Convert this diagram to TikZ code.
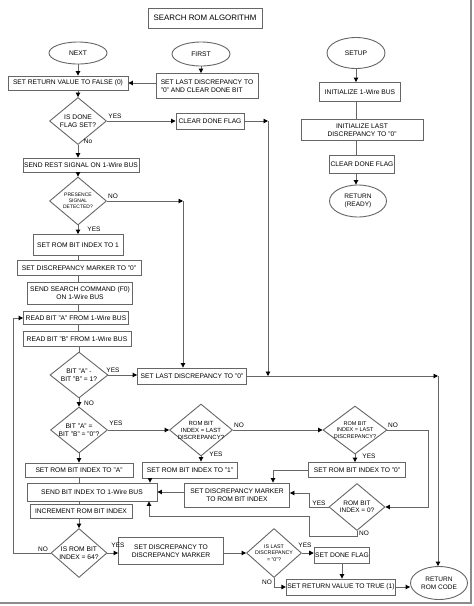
\documentclass[tikz,border=0pt]{standalone}
\usepackage{fontspec}
\setmainfont{Liberation Sans}
\usetikzlibrary{arrows.meta, shapes.geometric, positioning}
\newcommand{\fz}[2]{\fontsize{#1pt}{#2pt}\selectfont}

\begin{document}
\begin{tikzpicture}[x=1pt, y=-1pt,
  ln/.style={draw=black!60, line width=0.9pt},
  arr/.style={ln, -{Triangle[length=4.5pt, width=4.5pt, color=black]}},
  box/.style={draw=black!60, line width=0.9pt, fill=white, inner sep=1pt, align=center, font=\fz{6.7}{8}},
  term/.style={ellipse, draw=black!60, line width=0.9pt, fill=white, inner sep=0pt, align=center, font=\fz{6.7}{8}},
  dec/.style={diamond, draw=black!60, line width=0.9pt, fill=white, inner sep=-6pt, shape aspect=1.2, align=center, font=\fz{6.7}{7.5}},
  lbl/.style={inner sep=0pt, font=\fz{6.5}{7}}
]

            % Khung nền và viền xám
            \fill[white] (0,0) rectangle (474,606);
            \useasboundingbox (0,0) rectangle (474,606);
            \draw[black!45, line width=2.5pt] (471,0) -- (471,603) -- (0,603);

            % Tiêu đề
            \node[box, font=\fz{7.9}{9}, minimum width=114, minimum height=20] (title) at (205,18) {SEARCH ROM ALGORITHM};

            % Các điểm bắt đầu / kết thúc
            \node[term, minimum width=58, minimum height=22] (next) at (78,53) {NEXT};
            \node[term, minimum width=58, minimum height=24] (first) at (201,54) {FIRST};
            \node[term, minimum width=58, minimum height=31] (setup) at (356,53) {SETUP};
            \node[term, font=\fz{6.5}{7.6}, minimum width=57, minimum height=32] (ready) at (358,201) {RETURN\\(READY)};
            \node[term, font=\fz{6.5}{7.6}, minimum width=57, minimum height=33] (rrc) at (439,583) {RETURN\\ROM CODE};

            % Cột chính
            \coordinate (col) at (78,0);
            \node[box, minimum width=120, minimum height=14] (ret0) at (68,83) {SET RETURN VALUE TO FALSE (0)};
            \node[box, align=left, minimum width=102, minimum height=25] (sld) at (207,86) {SET LAST DISCREPANCY TO\\"0" AND CLEAR DONE BIT};
            \node[dec, minimum width=57, minimum height=47] (d1) at (78,121) {IS DONE\\FLAG SET?};
            \node[box, minimum width=68, minimum height=16] (cdf1) at (210,121) {CLEAR DONE FLAG};
            \node[box, minimum width=113, minimum height=14] (rst) at (81,165) {SEND REST SIGNAL ON 1-Wire BUS};
            \node[dec, font=\fz{5}{6}, minimum width=57, minimum height=48] (d2) at (78,201) {PRESENCE\\SIGNAL\\DETECTED?};
            \node[box, minimum width=90, minimum height=21] (rbi1) at (78,245) {SET ROM BIT INDEX TO 1};
            \node[box, minimum width=124, minimum height=15] (sdm0) at (79,268) {SET DISCREPANCY MARKER TO "0"};
            \node[box, minimum width=105, minimum height=22] (ssc) at (80,293) {SEND SEARCH COMMAND (F0)\\ON 1-Wire BUS};
            \node[box, minimum width=105, minimum height=13] (rda) at (76,318) {READ BIT "A" FROM 1-Wire BUS};
            \node[box, minimum width=108, minimum height=15] (rdb) at (77,339) {READ BIT "B" FROM 1-Wire BUS};
            \node[dec, minimum width=58, minimum height=46] (d3) at (79,375) {BIT "A" -\\BIT "B" = 1?};
            \node[box, minimum width=109, minimum height=16] (sld0) at (192,376) {SET LAST DISCREPANCY TO "0"};
            \node[dec, minimum width=57, minimum height=46] (d4) at (79,430) {BIT "A" =\\BIT "B" = "0"?};
            \node[dec, font=\fz{6}{7}, minimum width=63, minimum height=52] (d5) at (201,430) {ROM BIT\\INDEX = LAST\\DISCREPANCY?};
            \node[dec, font=\fz{5.5}{6.5}, minimum width=64, minimum height=48] (d6) at (355,430) {ROM BIT\\INDEX = LAST\\DISCREPANCY?};
            \node[box, minimum width=108, minimum height=14] (rbiA) at (79,470) {SET ROM BIT INDEX TO "A"};
            \node[box, minimum width=95, minimum height=16] (rbi1b) at (190,470) {SET ROM BIT INDEX TO "1"};
            \node[box, minimum width=97, minimum height=15] (rbi0) at (357,470) {SET ROM BIT INDEX TO "0"};
            \node[box, minimum width=130, minimum height=18] (sbi) at (92,492) {SEND BIT INDEX TO 1-Wire BUS};
            \node[box, minimum width=105, minimum height=24] (sdmr) at (237,495) {SET DISCREPANCY MARKER\\TO ROM BIT INDEX};
            \node[dec, font=\fz{6.5}{7.5}, minimum width=56, minimum height=47] (d7) at (357,507) {ROM BIT\\INDEX = 0?};
            \node[box, minimum width=102, minimum height=14] (inc) at (81,511) {INCREMENT ROM BIT INDEX};
            \node[dec, minimum width=56, minimum height=49] (d8) at (79,553) {IS ROM BIT\\INDEX = 64?};
            \node[box, minimum width=105, minimum height=27] (sdd) at (171,551) {SET DISCREPANCY TO\\DISCREPANCY MARKER};
            \node[dec, font=\fz{5.3}{6.3}, minimum width=55, minimum height=49] (d9) at (274,553) {IS LAST\\DISCREPANCY\\= "0"?};
            \node[box, minimum width=51, minimum height=16] (sdf) at (342,555) {SET DONE FLAG};
            \node[box, minimum width=104, minimum height=16] (rtt) at (341,587) {SET RETURN VALUE TO TRUE (1)};

            % Cột SETUP
            \node[box, minimum width=81, minimum height=19] (ini) at (360,92) {INITIALIZE 1-Wire BUS};
            \node[box, minimum width=122, minimum height=21] (inld) at (362,130) {INITIALIZE LAST\\DISCREPANCY TO "0"};
            \node[box, minimum width=65, minimum height=18] (cdf2) at (362,164) {CLEAR DONE FLAG};

            % Các điểm góc
            \coordinate (c1) at (268,121);
            \coordinate (c2) at (183,201);
            \coordinate (c3) at (438,376);
            \coordinate (c4) at (428,430);
            \coordinate (c5) at (428,507);
            \coordinate (c6) at (273,470);
            \coordinate (c7) at (309,507);
            \coordinate (c8) at (309,493);
            \coordinate (c9) at (357,536);
            \coordinate (c10) at (309,536);
            \coordinate (c11) at (309,516);
            \coordinate (c12) at (149,516);
            \coordinate (c13) at (13,553);
            \coordinate (c14) at (13,318);
            \coordinate (k1) at ([xshift=-40pt]rbi1b.south);

            % Mũi tên cột chính
            \draw[arr] (next.south) -- (next.south |- ret0.north);
            \draw[arr] (first.south) -- (first.south |- sld.north);
            \draw[arr] (sld.west |- ret0.east) -- (ret0.east);
            \draw[arr] (d1.north |- ret0.south) -- (d1.north);
            \draw[arr] (d1.east) -- (d1.east -| cdf1.west);
            \draw[arr] (cdf1.east) -- (c1);
            \draw[arr] (c1) -- (c1 |- sld0.east);
            \draw[arr] (d1.south) -- (d1.south |- rst.north);
            \draw[arr] (d2.north |- rst.south) -- (d2.north);
            \draw[arr] (d2.east) -- (c2);
            \draw[arr] (c2) -- (c2 |- sld0.north);
            \draw[arr] (d2.south) -- (d2.south |- rbi1.north);
            \draw[ln] (col |- rbi1.south) -- (col |- sdm0.north);
            \draw[ln] (col |- sdm0.south) -- (col |- ssc.north);
            \draw[ln] (col |- ssc.south) -- (col |- rda.north);
            \draw[ln] (col |- rda.south) -- (col |- rdb.north);
            \draw[ln] (d3.north |- rdb.south) -- (d3.north);
            \draw[arr] (d3.east) -- (d3.east -| sld0.west);
            \draw[arr] (sld0.east) -- (c3);
            \draw[arr] (c3) -- (c3 |- rrc.north);
            \draw[arr] (d3.south) -- (d4.north);
            \draw[arr] (d4.east) -- (d5.west);
            \draw[arr] (d5.east) -- (d6.west);
            \draw[arr] (d6.east) -- (c4) -- (c5) -- (d7.east);
            \draw[arr] (d6.south) -- (d6.south |- rbi0.north);
            \draw[arr] (d5.south) -- (d5.south |- rbi1b.north);
            \draw[arr] (d4.south) -- (d4.south |- rbiA.north);
            \draw[ln] (rbiA.south) -- (rbiA.south |- sbi.north);
            \draw[arr] (k1) -- (k1 |- sbi.north);
            \draw[arr] (rbi0.west) -- (c6) -- (c6 |- sdmr.north);
            \draw[arr] (sdmr.west |- sbi.east) -- (sbi.east);
            \draw[arr] (d7.west) -- (c7) -- (c8) -- (c8 -| sdmr.east);
            \draw[arr] (d7.south) -- (c9) -- (c10) -- (c11) -- (c12) -- (c12 |- sbi.south);
            \draw[ln] (rbiA.south |- sbi.south) -- (rbiA.south |- inc.north);
            \draw[arr] (d8.north |- inc.south) -- (d8.north);
            \draw[arr] (d8.west) -- (c13) -- (c14) -- (rda.west);
            \draw[arr] (d8.east) -- (d8.east -| sdd.west);
            \draw[arr] (d9.west -| sdd.east) -- (d9.west);
            \draw[arr] (d9.east) -- (d9.east -| sdf.west);
            \draw[arr] (sdf.south) -- (sdf.south |- rtt.north);
            \draw[arr] (d9.south) -- (d9.south |- rtt.west) -- (rtt.west);
            \draw[arr] (rtt.east) -- (rtt.east -| rrc.west);

            % Mũi tên cột SETUP
            \draw[arr] (setup.south) -- (setup.south |- ini.north);
            \draw[ln] (setup.south |- ini.south) -- (setup.south |- inld.north);
            \draw[ln] (setup.south |- inld.south) -- (setup.south |- cdf2.north);
            \draw[arr] (setup.south |- cdf2.south) -- (setup.south |- ready.north);

            % Nhãn YES / NO
            \node[lbl] (lyes1) at (115,116) {YES};
            \node[lbl] (lno1) at (88,141) {No};
            \node[lbl] (lno2) at (113,196) {NO};
            \node[lbl] (lyes2) at (94,229) {YES};
            \node[lbl] (lyes3) at (113,370) {YES};
            \node[lbl] (lno3) at (89,403) {NO};
            \node[lbl] (lyes4) at (116,423) {YES};
            \node[lbl] (lno5) at (239,425) {NO};
            \node[lbl] (lyes5) at (216,454) {YES};
            \node[lbl] (lno6) at (393,425) {NO};
            \node[lbl] (lyes6) at (369,456) {YES};
            \node[lbl] (lyes7) at (319,503) {YES};
            \node[lbl] (lno7) at (364,533) {NO};
            \node[lbl] (lno8) at (43,549) {NO};
            \node[lbl] (lyes8) at (118,545) {YES};
            \node[lbl] (lyes9) at (305,545) {YES};
            \node[lbl] (lno9) at (267,582) {NO};

\end{tikzpicture}
\end{document}
